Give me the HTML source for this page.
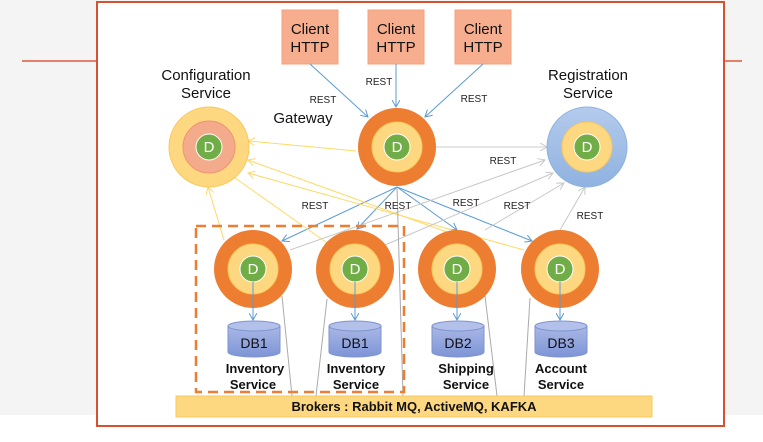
<!DOCTYPE html>
<html><head><style>
body{margin:0;width:763px;height:437px;background:#fff;overflow:hidden;font-family:"Liberation Sans",sans-serif}
</style></head><body>
<svg width="763" height="437" viewBox="0 0 763 437" xmlns="http://www.w3.org/2000/svg" font-family="Liberation Sans, sans-serif">
<defs>
<marker id="ab" markerWidth="8" markerHeight="8" refX="7" refY="4" orient="auto" markerUnits="userSpaceOnUse"><path d="M0,0 L7,4 L0,8" fill="none" stroke="#5b9bd5" stroke-width="1"/></marker>
<marker id="ay" markerWidth="8" markerHeight="8" refX="7" refY="4" orient="auto" markerUnits="userSpaceOnUse"><path d="M0,0 L7,4 L0,8" fill="none" stroke="#ffd966" stroke-width="1"/></marker>
<marker id="ag" markerWidth="8" markerHeight="8" refX="7" refY="4" orient="auto" markerUnits="userSpaceOnUse"><path d="M0,0 L7,4 L0,8" fill="none" stroke="#c8c8c8" stroke-width="1"/></marker>
<linearGradient id="db" x1="0" y1="0" x2="0" y2="1"><stop offset="0" stop-color="#aab8e6"/><stop offset="1" stop-color="#7d94d6"/></linearGradient>
<linearGradient id="bl" x1="0" y1="0" x2="0" y2="1"><stop offset="0" stop-color="#b4cbec"/><stop offset="1" stop-color="#8fb2e0"/></linearGradient>
</defs>
<rect x="0" y="0" width="763" height="415" fill="#f4f4f4"/>
<line x1="22" y1="61" x2="97" y2="61" stroke="#e05a3a" stroke-width="1.5"/>
<line x1="724" y1="61" x2="742" y2="61" stroke="#e05a3a" stroke-width="1.5"/>
<rect x="97" y="2" width="627" height="424" fill="#fff" stroke="#d9502e" stroke-width="2"/>

<g fill="#f6ae8f" stroke="#f4a07c">
<rect x="282" y="10" width="56" height="54"/><rect x="368" y="10" width="56" height="54"/><rect x="455" y="10" width="56" height="54"/>
</g>
<g font-size="15" fill="#111" text-anchor="middle">
<text x="310" y="34">Client</text><text x="310" y="52">HTTP</text>
<text x="396" y="34">Client</text><text x="396" y="52">HTTP</text>
<text x="483" y="34">Client</text><text x="483" y="52">HTTP</text>
<text x="206" y="80">Configuration</text><text x="206" y="98">Service</text>
<text x="588" y="80">Registration</text><text x="588" y="98">Service</text>
<text x="303" y="123" text-anchor="middle">Gateway</text>
</g>

<g stroke="#5b9bd5" stroke-width="1" fill="none" marker-end="url(#ab)">
<line x1="310" y1="64" x2="368" y2="117"/>
<line x1="396" y1="64" x2="396" y2="107"/>
<line x1="483" y1="64" x2="425" y2="117"/>
<line x1="397" y1="187" x2="282" y2="241"/>
<line x1="397" y1="187" x2="357" y2="229"/>
<line x1="397" y1="187" x2="457" y2="230"/>
<line x1="397" y1="187" x2="532" y2="241"/>
</g>
<g stroke="#ffd966" stroke-width="1" fill="none" marker-end="url(#ay)">
<line x1="356" y1="151" x2="248" y2="141"/>
<line x1="224" y1="240" x2="208" y2="187"/>
<line x1="330" y1="245" x2="228" y2="173"/>
<line x1="455" y1="235" x2="248" y2="160"/>
<line x1="524" y1="250" x2="248" y2="173"/>
</g>
<g stroke="#c8c8c8" stroke-width="1" fill="none" marker-end="url(#ag)">
<line x1="436" y1="147" x2="547" y2="147" stroke="#e6e6e6" stroke-width="2"/>
<line x1="290" y1="250" x2="545" y2="160"/>
<line x1="385" y1="245" x2="553" y2="173"/>
<line x1="485" y1="230" x2="564" y2="183"/>
<line x1="560" y1="230" x2="585" y2="187"/>
</g>
<g stroke="#aaa" stroke-width="1">
<line x1="397" y1="187" x2="403" y2="396"/>
<line x1="282" y1="296" x2="292" y2="396"/>
<line x1="327" y1="299" x2="316" y2="396"/>
<line x1="485" y1="296" x2="497" y2="396"/>
<line x1="530" y1="298" x2="524" y2="396"/>
</g>
<g font-size="10" fill="#222" text-anchor="middle">
<text x="323" y="103">REST</text><text x="379" y="85">REST</text><text x="474" y="102">REST</text>
<text x="503" y="164">REST</text><text x="315" y="209">REST</text><text x="398" y="209">REST</text>
<text x="466" y="206">REST</text><text x="517" y="209">REST</text><text x="590" y="219">REST</text>
</g>

<circle cx="209" cy="147" r="40" fill="#fed881" stroke="#fbc75a"/>
<circle cx="209" cy="147" r="26" fill="#f4ab8c" stroke="#ee9474"/>
<circle cx="397" cy="147" r="39" fill="#ed7d31"/>
<circle cx="397" cy="147" r="25" fill="#fed881" stroke="#fbc75a"/>
<circle cx="587" cy="147" r="40" fill="url(#bl)" stroke="#8fb2e0"/>
<circle cx="587" cy="147" r="25" fill="#fed881" stroke="#fbc75a"/>
<g>
<circle cx="253" cy="269" r="39" fill="#ed7d31"/><circle cx="253" cy="269" r="25" fill="#fed881" stroke="#fbc75a"/>
<circle cx="355" cy="269" r="39" fill="#ed7d31"/><circle cx="355" cy="269" r="25" fill="#fed881" stroke="#fbc75a"/>
<circle cx="457" cy="269" r="39" fill="#ed7d31"/><circle cx="457" cy="269" r="25" fill="#fed881" stroke="#fbc75a"/>
<circle cx="560" cy="269" r="39" fill="#ed7d31"/><circle cx="560" cy="269" r="25" fill="#fed881" stroke="#fbc75a"/>
</g>
<g fill="#70ad47" stroke="#fff" stroke-width="1">
<circle cx="209" cy="147" r="13"/><circle cx="397" cy="147" r="13"/><circle cx="587" cy="147" r="13"/>
<circle cx="253" cy="269" r="13"/><circle cx="355" cy="269" r="13"/><circle cx="457" cy="269" r="13"/><circle cx="560" cy="269" r="13"/>
</g>
<g font-size="15" fill="#fff" text-anchor="middle">
<text x="209" y="152">D</text><text x="397" y="152">D</text><text x="587" y="152">D</text>
<text x="253" y="274">D</text><text x="355" y="274">D</text><text x="457" y="274">D</text><text x="560" y="274">D</text>
</g>
<g stroke="#5b9bd5" stroke-width="1" marker-end="url(#ab)">
<line x1="253" y1="282" x2="253" y2="320"/><line x1="355" y1="282" x2="355" y2="320"/>
<line x1="457" y1="282" x2="457" y2="320"/><line x1="560" y1="282" x2="560" y2="320"/>
</g>
<g stroke="#7f93cf" stroke-width="1">
<g transform="translate(228,0)"><path d="M0,326 v26 a26,5 0 0 0 52,0 v-26" fill="url(#db)"/><ellipse cx="26" cy="326" rx="26" ry="5" fill="#b3c1ea"/></g>
<g transform="translate(329,0)"><path d="M0,326 v26 a26,5 0 0 0 52,0 v-26" fill="url(#db)"/><ellipse cx="26" cy="326" rx="26" ry="5" fill="#b3c1ea"/></g>
<g transform="translate(432,0)"><path d="M0,326 v26 a26,5 0 0 0 52,0 v-26" fill="url(#db)"/><ellipse cx="26" cy="326" rx="26" ry="5" fill="#b3c1ea"/></g>
<g transform="translate(535,0)"><path d="M0,326 v26 a26,5 0 0 0 52,0 v-26" fill="url(#db)"/><ellipse cx="26" cy="326" rx="26" ry="5" fill="#b3c1ea"/></g>
</g>
<g font-size="14" fill="#111" text-anchor="middle">
<text x="254" y="348">DB1</text><text x="355" y="348">DB1</text><text x="458" y="348">DB2</text><text x="561" y="348">DB3</text>
</g>
<g font-size="13" font-weight="bold" fill="#111" text-anchor="middle">
<text x="255" y="373">Inventory</text><text x="253" y="389">Service</text>
<text x="356" y="373">Inventory</text><text x="356" y="389">Service</text>
<text x="466" y="373">Shipping</text><text x="466" y="389">Service</text>
<text x="561" y="373">Account</text><text x="561" y="389">Service</text>
</g>
<rect x="196" y="226" width="208" height="166" fill="none" stroke="#ed7d31" stroke-width="2.5" stroke-dasharray="10,6"/>
<rect x="176" y="396" width="476" height="21" fill="#fed881" stroke="#fbc75a"/>
<text x="414" y="411" font-size="13" font-weight="bold" fill="#111" text-anchor="middle">Brokers : Rabbit MQ, ActiveMQ, KAFKA</text>
</svg>
</body></html>
